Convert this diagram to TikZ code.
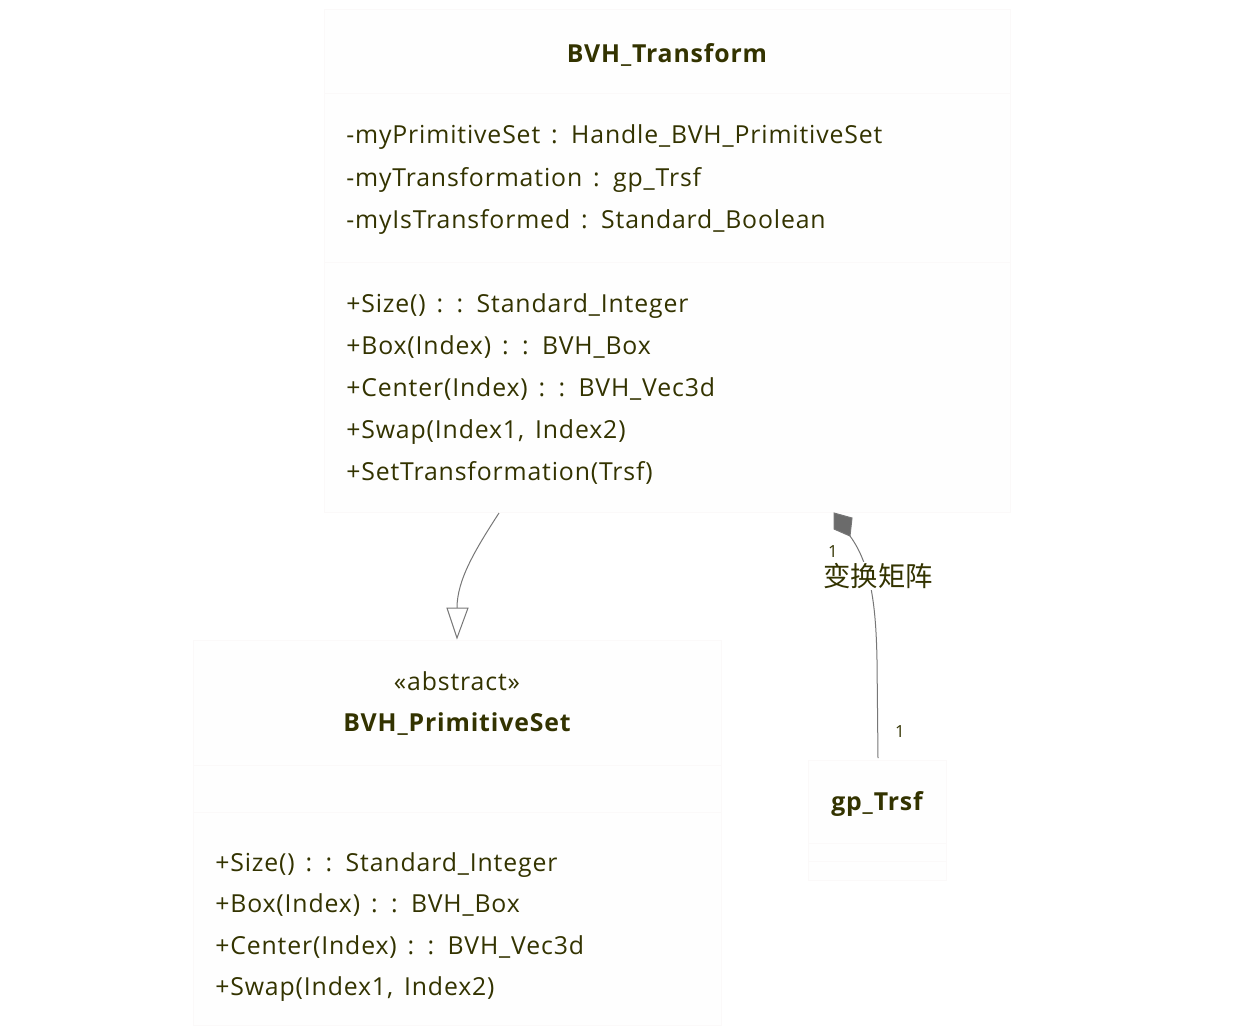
\documentclass[tikz,border=0pt]{standalone}
\usepackage{fontspec}
\setmainfont{Open Sans}[LetterSpace=3.5, WordSpace=1.5]
\newfontfamily\cjk{Noto Sans CJK SC}
\definecolor{txt}{HTML}{333300}
\definecolor{edge}{HTML}{777777}
\definecolor{boxline}{RGB}{251,249,249}
\definecolor{boxfill}{RGB}{254,254,254}
\tikzset{
  classbox/.style={draw=boxline, fill=boxfill, line width=0.75pt},
  divider/.style={draw=boxline, line width=0.75pt},
  member/.style={anchor=base west, inner sep=0pt, text=txt, font=\fontsize{18.6}{22}\selectfont},
  ctitle/.style={anchor=base, inner sep=0pt, text=txt, font=\fontsize{18.6}{22}\selectfont\bfseries},
  stereo/.style={anchor=base, inner sep=0pt, text=txt, font=\fontsize{18.6}{22}\selectfont},
  conn/.style={draw=edge, line width=0.75pt},
  mult/.style={inner sep=0pt, text=txt, font=\fontsize{12.5}{14}\selectfont},
  elabel/.style={inner sep=1pt, fill=white, text=txt, font=\cjk\fontsize{20.5}{24}\selectfont}
}
\begin{document}
\begin{tikzpicture}[x=0.75pt,y=-0.75pt]
\useasboundingbox (0,0) rectangle (1250,1035);
\fill[white] (0,0) rectangle (1250,1035);
% BVH_Transform box
\path[classbox] (324,9) rectangle (1010,512);
\draw[divider] (324,93) -- (1010,93);
\draw[divider] (324,262) -- (1010,262);
\node[ctitle] (tTitle) at (667,62) {BVH\_Transform};
\node[member] (t1) at (346,143) {-myPrimitiveSet : Handle\_BVH\_PrimitiveSet};
\node[member] (t2) at (346,186) {-myTransformation : gp\_Trsf};
\node[member] (t3) at (346,228) {-myIsTransformed : Standard\_Boolean};
\node[member] (t4) at (346,312) {+Size() : : Standard\_Integer};
\node[member] (t5) at (346,354) {+Box(Index) : : BVH\_Box};
\node[member] (t6) at (346,396) {+Center(Index) : : BVH\_Vec3d};
\node[member] (t7) at (346,438) {+Swap(Index1, Index2)};
\node[member] (t8) at (346,480) {+SetTransformation(Trsf)};
% BVH_PrimitiveSet box
\path[classbox] (193,640) rectangle (721,1025);
\draw[divider] (193,765) -- (721,765);
\draw[divider] (193,812) -- (721,812);
\node[stereo] (pSt) at (457,690) {«abstract»};
\node[ctitle] (pTitle) at (457,731) {BVH\_PrimitiveSet};
\node[member] (p1) at (215,871) {+Size() : : Standard\_Integer};
\node[member] (p2) at (215,912) {+Box(Index) : : BVH\_Box};
\node[member] (p3) at (215,954) {+Center(Index) : : BVH\_Vec3d};
\node[member] (p4) at (215,995) {+Swap(Index1, Index2)};
% gp_Trsf box
\path[classbox] (808,760) rectangle (946,880);
\draw[divider] (808,843) -- (946,843);
\draw[divider] (808,861) -- (946,861);
\node[ctitle] (gTitle) at (877,810) {gp\_Trsf};
% inheritance
\coordinate (inhS) at (499,513);
\coordinate (inhB) at (457,608);
\coordinate (inhT) at (457,638);
\draw[conn] (inhS) .. controls (475,550) and (457,580) .. (inhB);
\draw[conn, fill=white] (447,608) -- (468,608) -- (inhT) -- cycle;
% composition
\coordinate (dTip) at (834,513);
\coordinate (dR) at (852,518);
\coordinate (dEnd) at (850,536);
\coordinate (dL) at (834,529);
\coordinate (gTop) at (878,758);
\draw[conn] (dEnd) .. controls (872,566) and (876,610) .. (877,660) -- (gTop);
\draw[draw=edge, fill=edge!90!black, line width=0.75pt] (dTip) -- (dR) -- (dEnd) -- (dL) -- cycle;
\node[elabel] (lbl) at (878,576) {变换矩阵};
\node[mult] (m1) at (833,552) {1};
\node[mult] (m2) at (900,732) {1};
\end{tikzpicture}
\end{document}
